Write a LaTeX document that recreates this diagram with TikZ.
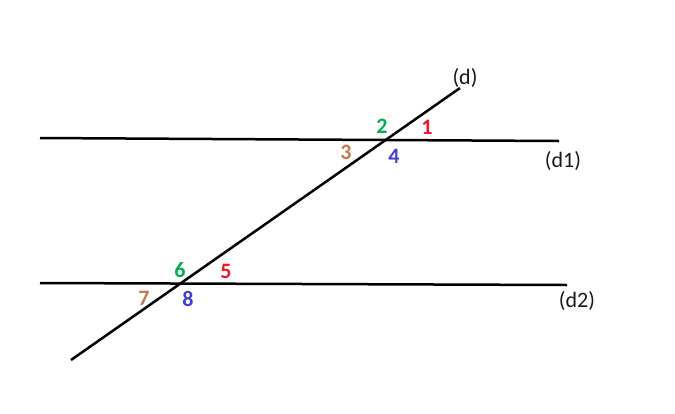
\documentclass[tikz,border=0pt]{standalone}
\usepackage{fontspec}
\setmainfont{Carlito}
\definecolor{anggreen}{RGB}{0,176,80}
\definecolor{angred}{RGB}{240,20,40}
\definecolor{angbrown}{RGB}{196,122,82}
\definecolor{angblue}{RGB}{64,64,210}
\begin{document}
\begin{tikzpicture}[x=1pt, y=-1pt,
linename/.style={font=\fontsize{22}{24}\selectfont, text=black!90, inner sep=0pt},
anglenum/.style={font=\fontsize{22}{24}\selectfont\bfseries, inner sep=0pt},
thinline/.style={draw=black, line width=2.5pt},]

\useasboundingbox (0,0) rectangle (675,413);

\coordinate (d1start) at (40, 138);
\coordinate (d1end) at (559, 141);
\coordinate (d2start) at (40, 283);
\coordinate (d2end) at (567, 285);
\coordinate (dstart) at (71, 360);
\coordinate (dend) at (460, 88);

\draw[thinline] (d1start) -- (d1end);
\draw[thinline] (d2start) -- (d2end);
\draw[thinline] (dstart) -- (dend);

\node (labeld) [linename] at (465, 78) {(d)};
\node (labeld1) [linename] at (563, 161) {(d1)};
\node (labeld2) [linename] at (577, 301) {(d2)};

\node (one) [anglenum, text=angred] at (427, 127) {1};
\node (two) [anglenum, text=anggreen] at (382, 126) {2};
\node (three) [anglenum, text=angbrown] at (346, 152) {3};
\node (four) [anglenum, text=angblue] at (394, 156) {4};

\node (five) [anglenum, text=angred] at (226, 271) {5};
\node (six) [anglenum, text=anggreen] at (180, 270) {6};
\node (seven) [anglenum, text=angbrown] at (144, 298) {7};
\node (eight) [anglenum, text=angblue] at (188, 299) {8};

\end{tikzpicture}
\end{document}
